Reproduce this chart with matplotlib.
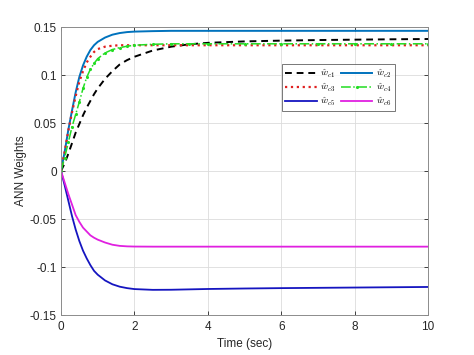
import matplotlib
matplotlib.use("Agg")
import matplotlib.pyplot as plt

t = [0, 0.1, 0.2, 0.3, 0.4, 0.5, 0.6, 0.7, 0.8, 0.9, 1.0, 1.2, 1.4, 1.6, 1.8,
     2.0, 2.5, 3.0, 3.5, 4.0, 5.0, 6.0, 7.0, 8.0, 9.0, 10.0]

wc1 = [0, 0.008, 0.018, 0.029, 0.040, 0.049, 0.058, 0.066, 0.073, 0.080, 0.086,
       0.096, 0.104, 0.111, 0.1155, 0.119, 0.1255, 0.1295, 0.132, 0.1335, 0.135,
       0.1358, 0.1364, 0.1368, 0.1372, 0.1375]
wc2 = [0, 0.020, 0.043, 0.063, 0.082, 0.098, 0.110, 0.119, 0.126, 0.131, 0.1345,
       0.139, 0.142, 0.1437, 0.1447, 0.1452, 0.1457, 0.146, 0.146, 0.146, 0.146,
       0.146, 0.146, 0.146, 0.146, 0.146]
wc3 = [0, 0.020, 0.042, 0.061, 0.078, 0.093, 0.104, 0.113, 0.119, 0.124, 0.127,
       0.1295, 0.1305, 0.131, 0.131, 0.131, 0.131, 0.131, 0.131, 0.131, 0.131,
       0.131, 0.131, 0.131, 0.131, 0.131]
wc4 = [0, 0.014, 0.030, 0.046, 0.059, 0.072, 0.086, 0.0975, 0.106, 0.112, 0.117,
       0.123, 0.1265, 0.1285, 0.130, 0.131, 0.132, 0.1325, 0.1325, 0.1325, 0.1325,
       0.1325, 0.1325, 0.1325, 0.1325, 0.1325]
wc5 = [0, -0.015, -0.031, -0.047, -0.061, -0.073, -0.083, -0.091, -0.098, -0.104,
       -0.108, -0.114, -0.118, -0.1205, -0.122, -0.123, -0.1238, -0.1237, -0.1233,
       -0.1229, -0.1224, -0.122, -0.1217, -0.1214, -0.1211, -0.1208]
wc6 = [0, -0.012, -0.024, -0.035, -0.046, -0.053, -0.059, -0.063, -0.067, -0.0695,
       -0.0715, -0.0745, -0.0768, -0.078, -0.0785, -0.0787, -0.0788, -0.0788,
       -0.0788, -0.0788, -0.0788, -0.0788, -0.0788, -0.0788, -0.0788, -0.0788]

labels = [r"$\hat{w}_{c1}$", r"$\hat{w}_{c2}$", r"$\hat{w}_{c3}$",
          r"$\hat{w}_{c4}$", r"$\hat{w}_{c5}$", r"$\hat{w}_{c6}$"]
xticks = [0, 2, 4, 6, 8, 10]
yticks = [-0.15, -0.1, -0.05, 0, 0.05, 0.1, 0.15]
ytick_labels = ["-0.15", "-0.1", "-0.05", "0", "0.05", "0.1", "0.15"]

plt.rcParams["font.family"] = ["Liberation Sans", "DejaVu Sans"]
plt.rcParams["mathtext.fontset"] = "cm"

fig = plt.figure(figsize=(4.74, 3.55), dpi=100)
ax = fig.add_axes([61 / 474, 40 / 355, 367 / 474, 288 / 355])

h1, = ax.plot(t, wc1, color="black", linestyle=(0, (3.5, 2.5)), linewidth=1.4, label=labels[0])
h2, = ax.plot(t, wc2, color="#0072BD", linestyle="-", linewidth=1.4, label=labels[1])
h3, = ax.plot(t, wc3, color="#e02020", linestyle=":", linewidth=1.6, label=labels[2])
h4, = ax.plot(t, wc4, color="#22dd22", linestyle="-.", linewidth=1.1, marker=".",
              markersize=2.5, markevery=1, label=labels[3])
h5, = ax.plot(t, wc5, color="#1515c0", linestyle="-", linewidth=1.3, label=labels[4])
h6, = ax.plot(t, wc6, color="#e020e0", linestyle="-", linewidth=1.3, label=labels[5])

ax.set_xlim(0, 10)
ax.set_ylim(-0.15, 0.15)
ax.set_xticks(xticks)
ax.set_xticklabels([str(v) for v in xticks])
ax.set_yticks(yticks)
ax.set_yticklabels(ytick_labels)
ax.tick_params(direction="in", length=3, width=0.6, labelsize=8.5, colors="#262626",
               top=True, right=True, pad=3)
ax.tick_params(axis="x", pad=4)
ax.grid(True, color="#dcdcdc", linewidth=0.6)
for s in ax.spines.values():
    s.set_color("#8c8c8c")
    s.set_linewidth(0.7)
ax.set_xlabel("Time (sec)", fontsize=8.5, color="#262626", labelpad=4)
ax.set_ylabel("ANN Weights", fontsize=8.5, color="#262626", labelpad=2)

handles = [h1, h3, h5, h2, h4, h6]
leg = ax.legend(handles, [h.get_label() for h in handles], ncol=2, loc="upper left",
                bbox_to_anchor=(221 / 367, 1 - 37 / 288),
                fontsize=7, frameon=True, fancybox=False, handlelength=3.2,
                handletextpad=0.35, columnspacing=0.6, labelspacing=0.2,
                borderpad=0.35, borderaxespad=0)
leg.get_frame().set_edgecolor("#555555")
leg.get_frame().set_linewidth(0.7)

fig.savefig("out.png", dpi=100)
